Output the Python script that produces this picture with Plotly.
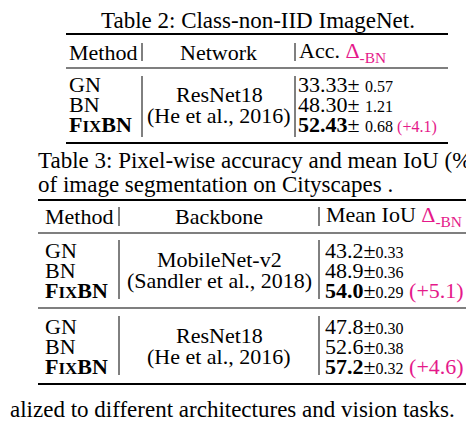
import plotly.graph_objects as go

# Table 2 data
t2_methods = ["GN", "BN", "FixBN"]
t2_acc = ["33.33", "48.30", "52.43"]
t2_std = ["0.57", "1.21", "0.68"]
t2_delta = ["", "", "(+4.1)"]

# Table 3 data
t3_backbones = [["MobileNet-v2", "(Sandler et al., 2018)"], ["ResNet18", "(He et al., 2016)"]]
t3_methods = ["GN", "BN", "FixBN"]
t3_iou = [["43.2", "48.9", "54.0"], ["47.8", "52.6", "57.2"]]
t3_std = [["0.33", "0.36", "0.29"], ["0.30", "0.38", "0.32"]]
t3_delta = [["", "", "(+5.1)"], ["", "", "(+4.6)"]]

FONT = "Liberation Serif, Times New Roman, serif"
PINK = "#e5198a"
W, H = 474, 427
FS = 22      # body text
CAP = 23     # captions
SM = 16      # std / small text

fig = go.Figure()
ann = []
shapes = []


def text(x, y, s, size=FS, anchor="left"):
    ann.append(dict(x=x, y=y, text=s, showarrow=False, xanchor=anchor, yanchor="middle",
                    font=dict(family=FONT, size=size, color="black")))


def hline(y, x0, x1, w=1.2):
    shapes.append(dict(type="line", x0=x0, x1=x1, y0=y, y1=y, line=dict(color="black", width=w)))


def vline(x, y0, y1):
    shapes.append(dict(type="line", x0=x, x1=x, y0=y0, y1=y1, line=dict(color="black", width=1)))


def method_label(m):
    if m == "FixBN":
        return f"<b>F<span style='font-size:{SM + 1}px'>IX</span>BN</b>"
    return m


delta_hdr = f"<span style='color:{PINK}'>Δ<sub>-BN</sub></span>"

# ---- Table 2
text(250, 12, "Table 2: Class-non-IID ImageNet.", CAP, "center")
hline(26, 58, 440, 2)
text(59, 44, "Method")
text(210, 44, "Network", anchor="center")
text(289, 44, "Acc. " + delta_hdr)
vline(134, 35, 53)
vline(287, 35, 53)
hline(60, 58, 440)
for i, m in enumerate(t2_methods):
    y = 76 + i * 20
    text(59, y, method_label(m))
    val = f"<b>{t2_acc[i]}</b>" if m == "FixBN" else t2_acc[i]
    d = f" <span style='color:{PINK}'>{t2_delta[i]}</span>" if t2_delta[i] else ""
    text(288, y, f"{val}± <span style='font-size:{SM}px'>{t2_std[i]}{d}</span>")
text(211, 86, "ResNet18", anchor="center")
text(211, 107, "(He et al., 2016)", anchor="center")
vline(134, 68, 129)
vline(287, 68, 129)
hline(135, 58, 440, 2)

# ---- Table 3
text(28, 152, "Table 3: Pixel-wise accuracy and mean IoU (%)", CAP)
text(28, 176, "of image segmentation on Cityscapes .", CAP)
hline(192, 30, 468, 2)
text(35, 208, "Method")
text(211, 208, "Backbone", anchor="center")
text(316, 208, "Mean IoU " + delta_hdr)
vline(111, 199, 218)
vline(311, 199, 218)
hline(225, 30, 468)
for g in range(2):
    base = 242 + g * 76
    for i, m in enumerate(t3_methods):
        y = base + i * 20
        text(35, y, method_label(m))
        val = f"<b>{t3_iou[g][i]}</b>" if m == "FixBN" else t3_iou[g][i]
        d = f" <span style='color:{PINK}'>{t3_delta[g][i]}</span>" if t3_delta[g][i] else ""
        text(315, y, f"{val}±<span style='font-size:{SM}px'>{t3_std[g][i]}</span>{d}")
    text(211, base + 9, t3_backbones[g][0], anchor="center")
    text(211, base + 30, t3_backbones[g][1], anchor="center")
    vline(111, base - 10, base + 49)
    vline(311, base - 10, base + 49)
hline(300, 30, 468)
hline(376, 30, 468, 2)

text(0, 401, "alized to different architectures and vision tasks.", CAP)

fig.update_layout(
    width=W, height=H, margin=dict(l=0, r=0, t=0, b=0),
    paper_bgcolor="white", plot_bgcolor="white",
    xaxis=dict(range=[0, W], visible=False, fixedrange=True),
    yaxis=dict(range=[H, 0], visible=False, fixedrange=True),
    annotations=ann, shapes=shapes, showlegend=False,
)
fig.write_html("out.html")
